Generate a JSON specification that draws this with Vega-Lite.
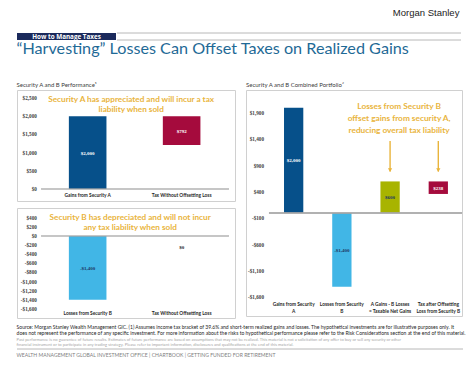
{
  "$schema": "https://vega.github.io/schema/vega-lite/v6.json",
  "background": "white",
  "padding": {"left": 16, "top": 7, "right": 8, "bottom": 2},
  "config": {
    "font": "Lato",
    "view": {"stroke": "#d0d0d0", "strokeWidth": 1},
    "axis": {"grid": false, "ticks": false, "domain": false},
    "title": {"fontWeight": "normal", "anchor": "start"}
  },
  "title": {"text": "WEALTH MANAGEMENT GLOBAL INVESTMENT OFFICE  |  CHARTBOOK  |  GETTING FUNDED FOR RETIREMENT", "orient": "bottom", "anchor": "start", "fontSize": 5.1, "color": "#808080", "offset": 3, "font": "Lato"},
  "spacing": 5.5,
  "vconcat": [
    {
      "spacing": 0,
      "vconcat": [
        {
          "spacing": 0,
          "hconcat": [
            {
              "width": 99, "height": 7,
              "view": {"fill": "#1b2a5c", "stroke": null},
              "data": {"values": [{"section": "How to Manage Taxes"}]},
              "mark": {"type": "text", "color": "white", "fontWeight": "bold", "fontSize": 6.3, "font": "Open Sans", "baseline": "middle"},
              "encoding": {"text": {"field": "section"}}
            },
            {
              "width": 344, "height": 7,
              "title": {"text": "Morgan Stanley", "anchor": "end", "fontSize": 9.5, "font": "Liberation Sans", "color": "#222222", "offset": 15.5, "dx": -2},
              "view": {"stroke": null},
              "data": {"values": [{"edge": "top"}, {"edge": "bottom"}]},
              "mark": {"type": "rule", "color": "#a6a6a6", "strokeWidth": 0.8},
              "encoding": {"y": {"field": "edge", "type": "nominal", "sort": null, "scale": {"type": "point", "padding": 0}, "axis": null}}
            }
          ]
        },
        {
          "title": {"text": "\u201cHarvesting\u201d Losses Can Offset Taxes on Realized Gains", "anchor": "start", "fontSize": 16.2, "font": "Lato", "color": "#1f6a96", "offset": 25, "dy": 1},
          "spacing": 9,
          "hconcat": [
            {
              "title": {"text": "Security A and B Performance\u00b9", "fontSize": 6, "color": "#404040", "offset": 2, "font": "Lato"},
              "spacing": 5,
              "vconcat": [
                {
                  "width": 218, "height": 111,
                  "data": {"values": [
                    {"cat": "Gains from Security A", "kind": "gain", "lo": 0, "hi": 2000, "label": "$2,000"},
                    {"cat": "Tax Without Offsetting Loss", "kind": "tax", "lo": 1208, "hi": 2000, "label": "$792"}
                  ]},
                  "encoding": {
                    "x": {"field": "cat", "type": "nominal", "sort": null, "title": null,
                      "scale": {"paddingInner": 0.6, "paddingOuter": 0.46, "align": 0.6},
                      "axis": {"orient": "bottom", "offset": -12, "labelAngle": 0, "labelFontSize": 4.8, "labelFontWeight": "bold", "labelColor": "#262626", "labelPadding": 3, "labelFont": "Lato"}}
                  },
                  "layer": [
                    {
                      "mark": {"type": "bar"},
                      "encoding": {
                        "y": {"field": "lo", "type": "quantitative", "title": null,
                          "scale": {"domain": [-330, 2720], "nice": false, "zero": false}, "axis": null},
                        "y2": {"field": "hi"},
                        "fill": {"field": "kind", "type": "nominal", "legend": null,
                          "scale": {"domain": ["gain", "tax", "loss", "net"], "range": ["#06508a", "#a50b3d", "#41b6e6", "#a8b400"]}}
                      }
                    },
                    {
                      "mark": {"type": "rule", "color": "#a6a6a6", "strokeWidth": 0.8},
                      "encoding": {
                        "x": {"datum": "Gains from Security A", "bandPosition": -0.74},
                        "x2": {"datum": "Tax Without Offsetting Loss", "bandPosition": 1.76},
                        "y": {"datum": 0, "type": "quantitative", "title": null}
                      }
                    },
                    {
                      "data": {"values": [
                        {"tick": 0, "tl": "$0"}, {"tick": 500, "tl": "$500"}, {"tick": 1000, "tl": "$1,000"},
                        {"tick": 1500, "tl": "$1,500"}, {"tick": 2000, "tl": "$2,000"}, {"tick": 2500, "tl": "$2,500"}
                      ]},
                      "mark": {"type": "text", "align": "right", "baseline": "middle", "font": "Liberation Serif", "fontSize": 5.2, "fontWeight": "bold", "color": "#404040", "dx": -32},
                      "encoding": {
                        "x": {"datum": "Gains from Security A", "bandPosition": 0},
                        "y": {"field": "tick", "type": "quantitative", "title": null},
                        "text": {"field": "tl"}
                      }
                    },
                    {
                      "transform": [{"fold": ["lo", "hi"], "as": ["end", "v"]}],
                      "mark": {"type": "text", "font": "Liberation Serif", "fontSize": 5, "fontWeight": "bold", "baseline": "middle"},
                      "encoding": {
                        "y": {"aggregate": "mean", "field": "v", "type": "quantitative", "title": null},
                        "text": {"field": "label"},
                        "detail": {"field": "kind"},
                        "color": {"condition": {"test": "datum.kind==='loss'||datum.kind==='net'", "value": "#1f3864"}, "value": "white"}
                      }
                    },
                    {
                      "data": {"values": [{"note": "Security A has appreciated and will incur a tax\nliability when sold"}]},
                      "mark": {"type": "text", "font": "Lato", "fontWeight": "bold", "fontSize": 8.2, "color": "#e9b43c", "lineBreak": "\n", "lineHeight": 10.5, "baseline": "middle", "dx": 43.5},
                      "encoding": {
                        "x": {"datum": "Gains from Security A"},
                        "y": {"datum": 2453, "type": "quantitative", "title": null},
                        "text": {"field": "note"}
                      }
                    }
                  ]
                },
                {
                  "width": 218, "height": 110,
                  "data": {"values": [
                    {"cat": "Losses from Security B", "kind": "loss", "lo": -1400, "hi": 0, "label": "-$1,400"},
                    {"cat": "Tax Without Offsetting Loss", "kind": "tax", "lo": 0, "hi": 0, "label": "$0"}
                  ]},
                  "encoding": {
                    "x": {"field": "cat", "type": "nominal", "sort": null, "title": null,
                      "scale": {"paddingInner": 0.6, "paddingOuter": 0.46, "align": 0.6},
                      "axis": {"orient": "bottom", "offset": -8, "labelAngle": 0, "labelFontSize": 4.8, "labelFontWeight": "bold", "labelColor": "#262626", "labelPadding": 0, "labelFont": "Lato"}}
                  },
                  "layer": [
                    {
                      "mark": {"type": "bar"},
                      "encoding": {
                        "y": {"field": "lo", "type": "quantitative", "title": null,
                          "scale": {"domain": [-1802, 615], "nice": false, "zero": false}, "axis": null},
                        "y2": {"field": "hi"},
                        "fill": {"field": "kind", "type": "nominal", "legend": null,
                          "scale": {"domain": ["gain", "tax", "loss", "net"], "range": ["#06508a", "#a50b3d", "#41b6e6", "#a8b400"]}}
                      }
                    },
                    {
                      "mark": {"type": "rule", "color": "#a6a6a6", "strokeWidth": 0.8},
                      "encoding": {
                        "x": {"datum": "Losses from Security B", "bandPosition": -0.74},
                        "x2": {"datum": "Tax Without Offsetting Loss", "bandPosition": 1.76},
                        "y": {"datum": 0, "type": "quantitative", "title": null}
                      }
                    },
                    {
                      "data": {"values": [
                        {"tick": 400, "tl": "$400"}, {"tick": 200, "tl": "$200"}, {"tick": 0, "tl": "$0"},
                        {"tick": -200, "tl": "-$200"}, {"tick": -400, "tl": "-$400"}, {"tick": -600, "tl": "-$600"},
                        {"tick": -800, "tl": "-$800"}, {"tick": -1000, "tl": "-$1,000"}, {"tick": -1200, "tl": "-$1,200"},
                        {"tick": -1400, "tl": "-$1,400"}, {"tick": -1600, "tl": "-$1,600"}
                      ]},
                      "mark": {"type": "text", "align": "right", "baseline": "middle", "font": "Liberation Serif", "fontSize": 5.2, "fontWeight": "bold", "color": "#404040", "dx": -32},
                      "encoding": {
                        "x": {"datum": "Losses from Security B", "bandPosition": 0},
                        "y": {"field": "tick", "type": "quantitative", "title": null},
                        "text": {"field": "tl"}
                      }
                    },
                    {
                      "transform": [{"filter": "datum.kind==='loss'"}, {"fold": ["lo", "hi"], "as": ["end", "v"]}],
                      "mark": {"type": "text", "font": "Liberation Serif", "fontSize": 5, "fontWeight": "bold", "baseline": "middle", "color": "#1f3864"},
                      "encoding": {
                        "y": {"aggregate": "mean", "field": "v", "type": "quantitative", "title": null},
                        "text": {"field": "label"}
                      }
                    },
                    {
                      "transform": [{"filter": "datum.kind==='tax'"}],
                      "mark": {"type": "text", "font": "Liberation Serif", "fontSize": 5, "fontWeight": "bold", "baseline": "middle", "color": "#262626", "dy": 11},
                      "encoding": {
                        "y": {"field": "hi", "type": "quantitative", "title": null},
                        "text": {"field": "label"}
                      }
                    },
                    {
                      "data": {"values": [{"note": "Security B has depreciated and will not incur\nany tax liability when sold"}]},
                      "mark": {"type": "text", "font": "Lato", "fontWeight": "bold", "fontSize": 8.2, "color": "#e9b43c", "lineBreak": "\n", "lineHeight": 10.5, "baseline": "middle", "dx": 42.5},
                      "encoding": {
                        "x": {"datum": "Losses from Security B"},
                        "y": {"datum": 402, "type": "quantitative", "title": null},
                        "text": {"field": "note"}
                      }
                    }
                  ]
                }
              ]
            },
            {
              "title": {"text": "Security A and B Combined Portfolio\u00b2", "fontSize": 6, "color": "#404040", "offset": 2, "font": "Lato"},
              "width": 216, "height": 226,
              "data": {"values": [
                {"cat": "Gains from Security|A", "kind": "gain", "lo": 0, "hi": 2000, "label": "$2,000"},
                {"cat": "Losses from Security|B", "kind": "loss", "lo": -1400, "hi": 0, "label": "-$1,400"},
                {"cat": "A Gains - B Losses|= Taxable Net Gains", "kind": "net", "lo": 0, "hi": 600, "label": "$600"},
                {"cat": "Tax after Offsetting|Loss from Security B", "kind": "tax", "lo": 362, "hi": 600, "label": "$238"}
              ]},
              "encoding": {
                "x": {"field": "cat", "type": "nominal", "sort": null, "title": null,
                  "scale": {"paddingInner": 0.6, "paddingOuter": 0.54, "align": 0.73},
                  "axis": {"orient": "bottom", "offset": -16, "labelAngle": 0, "labelFontSize": 4.8, "labelFontWeight": "bold", "labelColor": "#262626", "labelPadding": 1, "labelLineHeight": 7, "labelFont": "Lato", "labelExpr": "split(datum.label, '|')"}}
              },
              "layer": [
                {
                  "mark": {"type": "bar"},
                  "encoding": {
                    "y": {"field": "lo", "type": "quantitative", "title": null,
                      "scale": {"domain": [-1958, 2338], "nice": false, "zero": false}, "axis": null},
                    "y2": {"field": "hi"},
                    "fill": {"field": "kind", "type": "nominal", "legend": null,
                      "scale": {"domain": ["gain", "tax", "loss", "net"], "range": ["#06508a", "#a50b3d", "#41b6e6", "#a8b400"]}}
                  }
                },
                {
                  "mark": {"type": "rule", "color": "#a6a6a6", "strokeWidth": 0.8},
                  "encoding": {
                    "x": {"datum": "Gains from Security|A", "bandPosition": -0.78},
                    "x2": {"datum": "Tax after Offsetting|Loss from Security B", "bandPosition": 1.73},
                    "y": {"datum": 0, "type": "quantitative", "title": null}
                  }
                },
                {
                  "data": {"values": [
                    {"tick": 1900, "tl": "$1,900"}, {"tick": 1400, "tl": "$1,400"}, {"tick": 900, "tl": "$900"},
                    {"tick": 400, "tl": "$400"}, {"tick": -100, "tl": "-$100"}, {"tick": -600, "tl": "-$600"},
                    {"tick": -1100, "tl": "-$1,100"}, {"tick": -1600, "tl": "-$1,600"}
                  ]},
                  "mark": {"type": "text", "align": "right", "baseline": "middle", "font": "Liberation Serif", "fontSize": 5.2, "fontWeight": "bold", "color": "#404040", "dx": -20},
                  "encoding": {
                    "x": {"datum": "Gains from Security|A", "bandPosition": 0},
                    "y": {"field": "tick", "type": "quantitative", "title": null},
                    "text": {"field": "tl"}
                  }
                },
                {
                  "transform": [{"fold": ["lo", "hi"], "as": ["end", "v"]}],
                  "mark": {"type": "text", "font": "Liberation Serif", "fontSize": 5, "fontWeight": "bold", "baseline": "middle"},
                  "encoding": {
                    "y": {"aggregate": "mean", "field": "v", "type": "quantitative", "title": null},
                    "text": {"field": "label"},
                    "detail": {"field": "kind"},
                    "color": {"condition": {"test": "datum.kind==='loss'||datum.kind==='net'", "value": "#1f3864"}, "value": "white"}
                  }
                },
                {
                  "data": {"values": [{"cat": "A Gains - B Losses|= Taxable Net Gains"}, {"cat": "Tax after Offsetting|Loss from Security B"}]},
                  "mark": {"type": "rule", "color": "#e9b43c", "strokeWidth": 1.4},
                  "encoding": {
                    "y": {"datum": 1369, "type": "quantitative", "title": null},
                    "y2": {"datum": 790}
                  }
                },
                {
                  "data": {"values": [{"cat": "A Gains - B Losses|= Taxable Net Gains"}, {"cat": "Tax after Offsetting|Loss from Security B"}]},
                  "mark": {"type": "point", "shape": "triangle-down", "filled": true, "color": "#e9b43c", "size": 18, "opacity": 1},
                  "encoding": {
                    "y": {"datum": 815, "type": "quantitative", "title": null}
                  }
                },
                {
                  "data": {"values": [{"note": "Losses from Security B\noffset gains from security A,\nreducing overall tax liability"}]},
                  "mark": {"type": "text", "font": "Lato", "fontWeight": "bold", "fontSize": 8.3, "color": "#e9b43c", "lineBreak": "\n", "lineHeight": 12, "baseline": "middle", "dx": 9},
                  "encoding": {
                    "x": {"datum": "A Gains - B Losses|= Taxable Net Gains"},
                    "y": {"datum": 2015, "type": "quantitative", "title": null},
                    "text": {"field": "note"}
                  }
                }
              ]
            }
          ]
        }
      ]
    },
    {
      "width": 446, "height": 1,
      "view": {"stroke": null},
      "title": {
        "text": ["Source: Morgan Stanley Wealth Management GIC. (1) Assumes income tax bracket of 39.6% and short-term realized gains and losses. The hypothetical investments are for illustrative purposes only. It", "does not represent the performance of any specific investment. For more information about the risks to hypothetical performance please refer to the Risk Considerations section at the end of this material."],
        "subtitle": ["Past performance is no guarantee of future results. Estimates of future performance are based on assumptions that may not be realized. This material is not a solicitation of any offer to buy or sell any security or other", "financial instrument or to participate in any trading strategy. Please refer to important information, disclosures and qualifications at the end of this material."],
        "anchor": "start", "fontSize": 5.05, "color": "#262626", "lineHeight": 6.5, "font": "Lato",
        "subtitleFontSize": 4.1, "subtitleColor": "#a6a6a6", "subtitleLineHeight": 5, "subtitlePadding": 1.5, "subtitleFont": "Lato", "offset": 1.5
      },
      "data": {"values": [{"edge": "line"}]},
      "mark": {"type": "rule", "color": "#a6a6a6", "strokeWidth": 0.8},
      "encoding": {"y": {"field": "edge", "type": "nominal", "scale": {"type": "point", "padding": 0}, "axis": null}}
    }
  ]
}
